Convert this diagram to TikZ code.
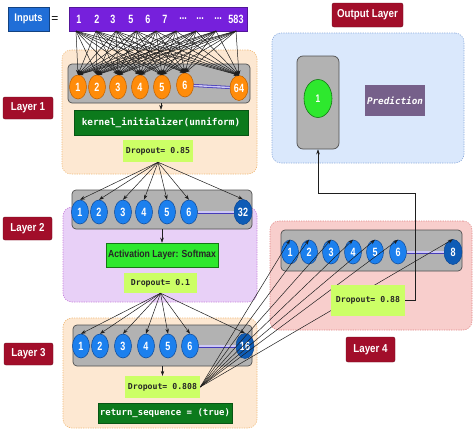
\documentclass[tikz,border=0pt]{standalone}
\usepackage{fontspec}
\setmainfont{Liberation Sans}
\newfontfamily\cond[FakeStretch=0.85]{Liberation Sans}
\newfontfamily\narrow[FakeStretch=0.75]{Liberation Sans}
\newfontfamily\mono{DejaVu Sans Mono}
\usetikzlibrary{shapes.geometric,arrows.meta}
\newcommand\mydots{...}
\definecolor{inblue}{RGB}{32,110,215}
\definecolor{inpurple}{RGB}{118,32,220}
\definecolor{layerred}{RGB}{162,14,42}
\definecolor{peach}{RGB}{253,232,210}
\definecolor{peachb}{RGB}{240,185,120}
\definecolor{lav}{RGB}{232,208,247}
\definecolor{lavb}{RGB}{200,130,220}
\definecolor{pinkf}{RGB}{248,206,204}
\definecolor{pinkb}{RGB}{225,135,135}
\definecolor{lblue}{RGB}{218,232,252}
\definecolor{lblueb}{RGB}{140,170,220}
\definecolor{grayf}{RGB}{178,178,178}
\definecolor{grayb}{RGB}{80,80,80}
\definecolor{orf}{RGB}{255,140,10}
\definecolor{orb}{RGB}{190,95,0}
\definecolor{blf}{RGB}{28,128,238}
\definecolor{blb}{RGB}{12,72,150}
\definecolor{dblf}{RGB}{14,92,182}
\definecolor{dgreen}{RGB}{12,122,28}
\definecolor{lgreen}{RGB}{204,255,102}
\definecolor{bgreen}{RGB}{46,232,46}
\definecolor{bgreenb}{RGB}{20,120,20}
\definecolor{predc}{RGB}{118,96,138}
\definecolor{dbl}{RGB}{70,60,185}
\definecolor{dblin}{RGB}{205,200,245}
\definecolor{linec}{RGB}{30,30,30}
\begin{document}
\begin{tikzpicture}[x=1pt,y=-1pt,
  lab/.style={fill=layerred, draw=layerred!70!black, rounded corners=2pt, text=white,
    font=\cond\bfseries\fontsize{11.5}{13}\selectfont, inner sep=0pt},
  region/.style={rounded corners=9pt, line width=0.6pt, dash pattern=on 1.2pt off 1.2pt, inner sep=0pt},
  graybox/.style={fill=grayf, draw=grayb, rounded corners=4pt, line width=0.7pt, inner sep=0pt},
  oc/.style={ellipse, fill=orf, draw=orb, line width=0.5pt, minimum width=17pt, minimum height=24pt,
    inner sep=0pt, text=white, font=\narrow\bfseries\fontsize{12}{13}\selectfont},
  bc/.style={oc, fill=blf, draw=blb},
  dbc/.style={oc, fill=dblf, draw=blb, minimum width=18pt, minimum height=25pt},
  dgbox/.style={fill=dgreen, draw=dgreen!70!black, text=white, inner sep=0pt,
    font=\mono\bfseries\fontsize{9.4}{11}\selectfont},
  lgbox/.style={fill=lgreen, inner sep=0pt, text=black!85,
    font=\mono\bfseries\fontsize{8.2}{10}\selectfont},
  arr/.style={draw=linec, line width=0.5pt, -{Stealth[length=5pt,width=3.6pt]}},
  dline/.style={draw=dbl, double=dblin, double distance=1.4pt, line width=0.8pt},
  num/.style={text=white, font=\narrow\bfseries\fontsize{12}{13}\selectfont, inner sep=0pt}
]
\useasboundingbox (0,0) rectangle (474,434);
\fill[white] (0,0) rectangle (474,434);

% regions
\node[region, fill=peach, draw=peachb, minimum width=195pt, minimum height=124pt] (r1) at (159.5,112) {};
\node[region, fill=lav, draw=lavb, minimum width=194pt, minimum height=95pt] (r2) at (160,254.5) {};
\node[region, fill=peach, draw=peachb, minimum width=194pt, minimum height=110pt] (r3) at (160,373) {};
\node[region, fill=pinkf, draw=pinkb, minimum width=202pt, minimum height=109pt] (r4) at (371,275.5) {};
\node[region, fill=lblue, draw=lblueb, minimum width=192pt, minimum height=130pt] (r5) at (368,98) {};

% inputs
\node[fill=inblue, draw=inblue!60!black, line width=0.6pt, minimum width=41pt, minimum height=24pt, inner sep=0pt,
  text=white, font=\cond\bfseries\fontsize{11}{12}\selectfont] (inp) at (28.5,19) {Inputs};
\node[font=\fontsize{12}{14}\selectfont, inner sep=0pt] (eq) at (55,20) {=};
\node[fill=inpurple, draw=inpurple!70!black, line width=0.6pt, minimum width=178pt, minimum height=24pt, inner sep=0pt] (inbox) at (158,19) {};
\foreach \x/\t [count=\i] in {79/1,97/2,113/3,131/5,148/6,165/7,183/\mydots,200/\mydots,218/\mydots,236/583}
  \node[num] (n\i) at (\x,19) {\t};
\foreach \s in {1,...,9} \coordinate (s\s) at ({76+20*(\s-1)},31);

% layer labels
\node[lab, minimum width=50pt, minimum height=22pt] (l1) at (28,108) {Layer 1};
\node[lab, minimum width=49pt, minimum height=23pt] (l2) at (27.5,228.5) {Layer 2};
\node[lab, minimum width=49pt, minimum height=22pt] (l3) at (28.5,354) {Layer 3};
\node[lab, minimum width=49pt, minimum height=25pt] (l4) at (370.5,349.5) {Layer 4};
\node[lab, minimum width=71pt, minimum height=24pt] (lo) at (367.5,15) {Output Layer};

% gray boxes
\node[graybox, minimum width=182pt, minimum height=39pt] (g1) at (159,83.5) {};
\node[graybox, minimum width=180pt, minimum height=39pt] (g2) at (162,209.5) {};
\node[graybox, minimum width=179pt, minimum height=41pt] (g3) at (162.5,345.5) {};
\node[graybox, minimum width=181pt, minimum height=41pt] (g4) at (371.5,250.5) {};
\node[graybox, minimum width=42pt, minimum height=93pt, rounded corners=6pt] (og) at (318,102.5) {};

% layer 1 circles
\foreach \x/\y/\t [count=\i] in {78/87/1,97/87/2,118/87/3,140/87/4,162/87/5,185/85/6}
  \node[oc] (a\i) at (\x,\y) {\t};
\node[oc, minimum width=18pt, minimum height=25pt] (a7) at (239,88) {64};
\draw[dline] (a6) -- (a7);

% layer 2 circles
\foreach \x/\t [count=\i] in {80/1,99/2,123/3,144/4,167/5,189/6}
  \node[bc] (b\i) at (\x,212) {\t};
\node[dbc] (b7) at (243,212) {32};
\draw[dline] (b6) -- (b7);

% layer 3 circles
\foreach \x/\t [count=\i] in {81/1,100/2,123/3,146/4,168/5,190/6}
  \node[bc] (c\i) at (\x,346) {\t};
\node[dbc] (c7) at (245,346) {16};
\draw[dline] (c6) -- (c7);

% layer 4 circles
\foreach \x/\t [count=\i] in {290/1,309/2,331/3,353/4,375/5,398/6}
  \node[bc] (e\i) at (\x,252) {\t};
\node[dbc] (e7) at (453,252) {8};
\draw[dline] (e6) -- (e7);

% output
\node[ellipse, fill=bgreen, draw=bgreenb, line width=0.6pt, minimum width=28pt, minimum height=38pt, inner sep=0pt,
  text=white, font=\narrow\bfseries\fontsize{11}{12}\selectfont] (oc1) at (318,98.5) {1};
\node[fill=predc, minimum width=60pt, minimum height=31pt, inner sep=0pt, text=white,
  font=\mono\bfseries\itshape\fontsize{9.3}{11}\selectfont] (pred) at (395,100.5) {Prediction};

% inner boxes
\node[dgbox, minimum width=174pt, minimum height=25pt] (k1) at (161,122.5) {kernel\_initializer(unniform)};
\node[lgbox, minimum width=70pt, minimum height=22pt] (d1) at (158,151) {Dropout= 0.85};
\node[fill=bgreen, draw=bgreenb, line width=0.6pt, minimum width=112pt, minimum height=24pt, inner sep=0pt,
  text=black!85, font=\cond\bfseries\fontsize{10.2}{11}\selectfont] (act) at (162,255) {Activation Layer: Softmax};
\node[lgbox, minimum width=73pt, minimum height=20pt] (d2) at (160.5,283) {Dropout= 0.1};
\node[lgbox, minimum width=75pt, minimum height=22pt] (d3) at (162.5,387) {Dropout= 0.808};
\node[dgbox, minimum width=134pt, minimum height=20pt, font=\mono\bfseries\fontsize{9}{11}\selectfont] (ret) at (165,413) {return\_sequence = (true)};

% vertical arrows inside layers
\draw[arr] (g1.south -| k1.north) -- (k1.north);
\draw[arr] (g2.south -| act.north) -- (act.north);
\draw[arr] (g3.south -| d3.north) -- (d3.north);

% connections
\foreach \s in {1,...,9} \foreach \i in {1,...,7} \draw[arr] (s\s) -- (a\i.north);
\foreach \i in {1,...,7} \draw[arr] (d1.south) -- (b\i.north);
\foreach \i in {1,...,7} \draw[arr] (d2.south) -- (c\i.north);
\foreach \i in {1,...,7} \draw[arr] (d3.east) -- (e\i.north);

% layer 4 dropout on top
\node[lgbox, minimum width=74pt, minimum height=31pt] (d4) at (368,300.5) {Dropout= 0.88};
\coordinate (kk) at (415,193);
\draw[arr] (d4.east) -| (kk) -| (og.south);
\end{tikzpicture}
\end{document}
